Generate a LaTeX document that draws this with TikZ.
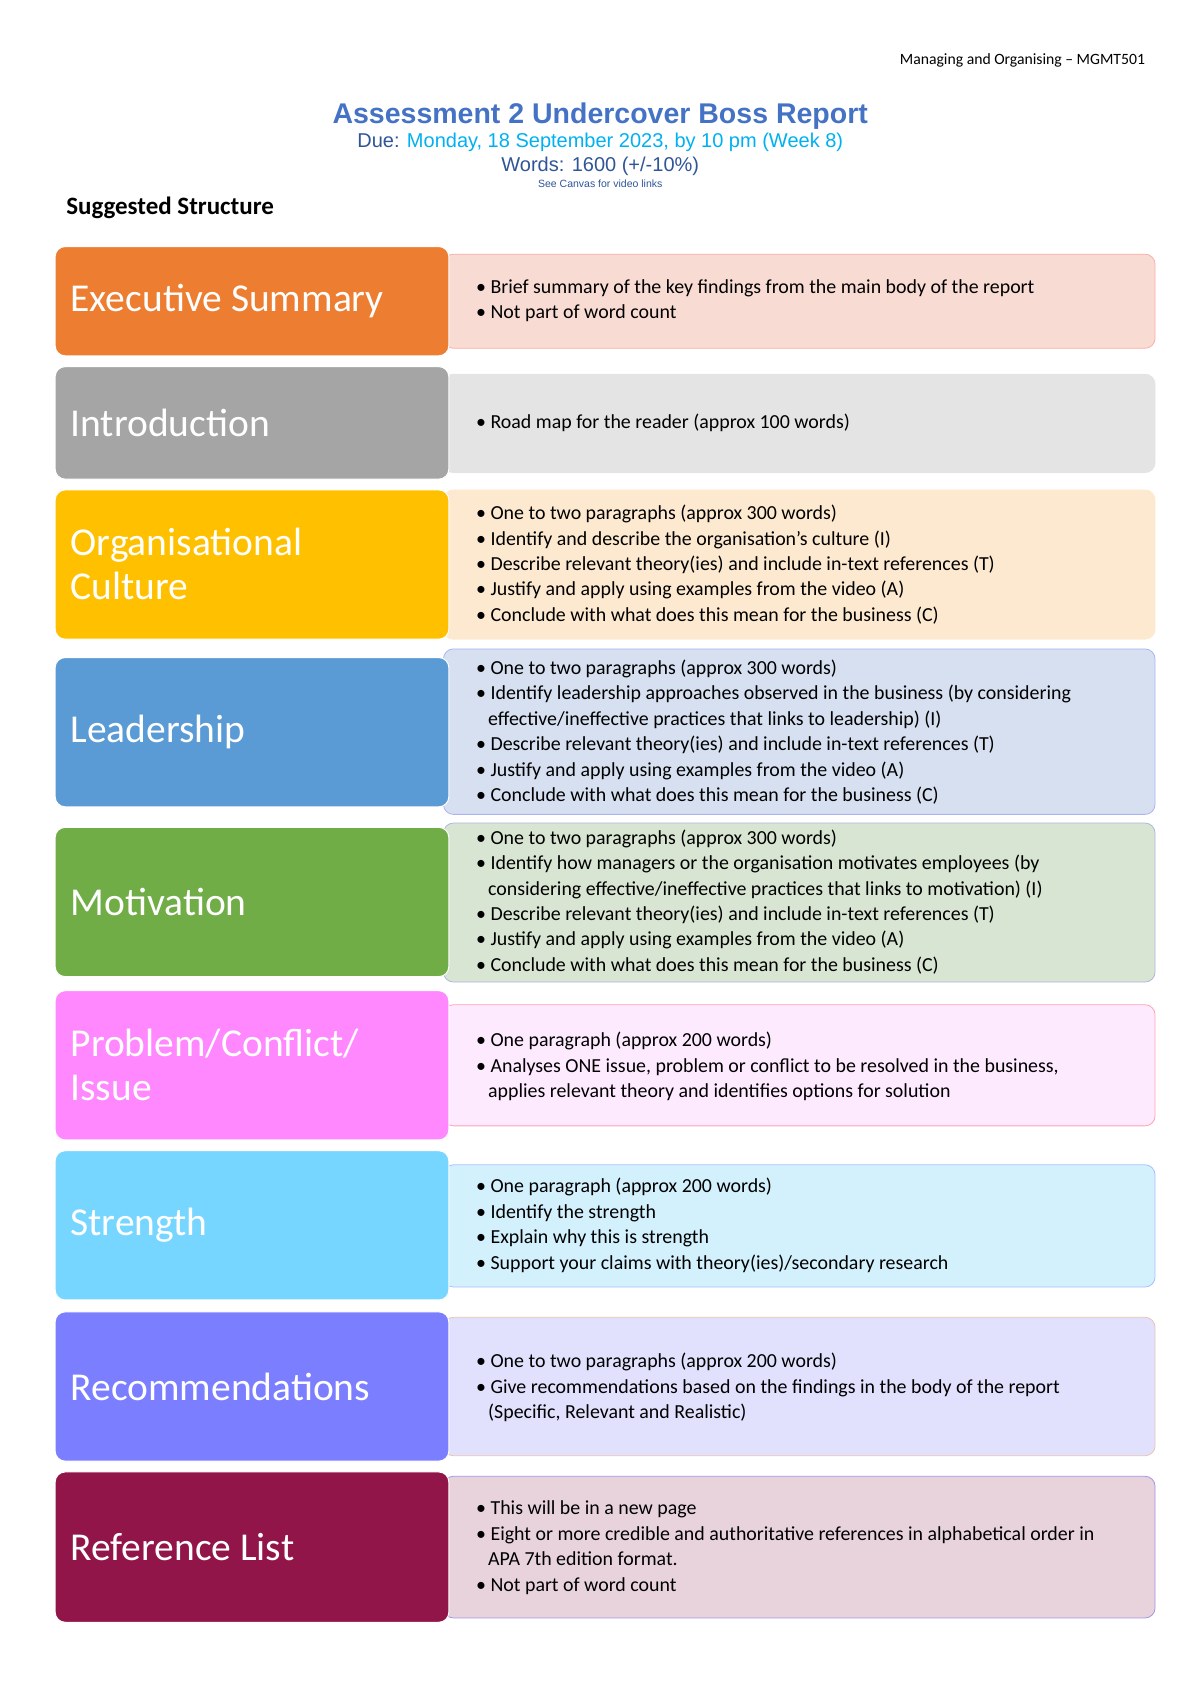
\documentclass[tikz,border=0pt]{standalone}
\usepackage{fontspec}
\setmainfont{Carlito}
\newfontfamily\arialf{Liberation Sans}
\definecolor{c1}{HTML}{ED7D31}\definecolor{d1}{HTML}{F8DBD3}
\definecolor{c2}{HTML}{A5A5A5}\definecolor{d2}{HTML}{E4E4E4}
\definecolor{c3}{HTML}{FFC000}\definecolor{d3}{HTML}{FDE9D0}
\definecolor{c4}{HTML}{5B9BD5}\definecolor{d4}{HTML}{D6E0F0}
\definecolor{c5}{HTML}{70AD47}\definecolor{d5}{HTML}{D9E5D3}
\definecolor{c6}{HTML}{FF88FF}\definecolor{d6}{HTML}{FEEAFE}
\definecolor{c7}{HTML}{77D6FF}\definecolor{d7}{HTML}{D3F0FD}
\definecolor{c8}{HTML}{7B7FFF}\definecolor{d8}{HTML}{E1E1FD}
\definecolor{c9}{HTML}{92154A}\definecolor{d9}{HTML}{E8D3DD}
\definecolor{titleblue}{HTML}{4472C4}
\definecolor{dueblue}{HTML}{00B0F0}
\definecolor{navy}{HTML}{2F5597}
\newcommand{\bl}{\textbullet\ }
\newcommand{\ct}{\hspace*{12pt}}
\tikzset{
 lbox/.style={rounded corners=10pt, draw=white, line width=1pt},
 rbox/.style={rounded corners=10pt, line width=0.8pt},
 ltext/.style={anchor=west, text=white, font=\fontsize{39.5}{44}\selectfont, align=left},
 rtext/.style={anchor=west, align=left, font=\fontsize{19.9}{25.4}\selectfont}
}
\begin{document}
\begin{tikzpicture}[x=1.0815pt,y=-1.0815pt]
\useasboundingbox (0,0) rectangle (1109.6,1569.1);
\node[anchor=east,font=\fontsize{15.7}{18}\selectfont] (hdr) at (1062,56) {Managing and Organising – MGMT501};
\node[font=\arialf\bfseries\fontsize{28.5}{32}\selectfont, text=titleblue] (title) at (555,107) {Assessment 2 Undercover Boss Report};
\node[font=\arialf\fontsize{20}{22}\selectfont] (due) at (555,132) {\textcolor{navy}{Due:} \textcolor{dueblue}{Monday, 18 September 2023, by 10 pm (Week 8)}};
\node[font=\arialf\fontsize{20}{22}\selectfont, text=navy] (words) at (555,154) {Words: 1600 (+/-10\%)};
\node[font=\arialf\fontsize{10.5}{12}\selectfont, text=navy] (see) at (555,170) {See Canvas for video links};
\node[anchor=west,font=\bfseries\fontsize{25}{28}\selectfont] (sug) at (58,192) {Suggested Structure};

% right boxes
\draw[rbox, fill=d1, draw=d1!80!red] (410,235) rectangle (1068,322);
\draw[rbox, fill=d2, draw=d2] (410,346) rectangle (1068,437);
\draw[rbox, fill=d3, draw=d3] (410,453) rectangle (1068,591);
\draw[rbox, fill=d4, draw=d4!80!blue] (410,600) rectangle (1068,753);
\draw[rbox, fill=d5, draw=d5!80!blue] (410,761) rectangle (1068,908);
\draw[rbox, fill=d6, draw=d6!70!red] (410,929) rectangle (1068,1041);
\draw[rbox, fill=d7, draw=d7!80!blue] (410,1077) rectangle (1068,1190);
\draw[rbox, fill=d8, draw=d8!70!orange] (410,1218) rectangle (1068,1346);
\draw[rbox, fill=d9, draw=d9!70!blue] (410,1365) rectangle (1068,1496);

% left boxes
\draw[lbox, fill=c1] (51,228) rectangle (415,329);
\draw[lbox, fill=c2] (51,339) rectangle (415,443);
\draw[lbox, fill=c3] (51,453) rectangle (415,591);
\draw[lbox, fill=c4] (51,608) rectangle (415,746);
\draw[lbox, fill=c5] (51,765) rectangle (415,903);
\draw[lbox, fill=c6] (51,916) rectangle (415,1054);
\draw[lbox, fill=c7] (51,1064) rectangle (415,1202);
\draw[lbox, fill=c8] (51,1213) rectangle (415,1351);
\draw[lbox, fill=c9] (51,1361) rectangle (415,1500);

\node[ltext] (l1) at (62,278) {Executive Summary};
\node[ltext] (l2) at (62,391) {Introduction};
\node[ltext] (l3) at (62,521) {Organisational\\Culture};
\node[ltext] (l4) at (62,677) {Leadership};
\node[ltext] (l5) at (62,834) {Motivation};
\node[ltext] (l6) at (62,985) {Problem/Conflict/\\Issue};
\node[ltext] (l7) at (62,1133) {Strength};
\node[ltext] (l8) at (62,1282) {Recommendations};
\node[ltext] (l9) at (62,1430) {Reference List};

\node[rtext] (r1) at (437,278) {\bl Brief summary of the key findings from the main body of the report\\\bl Not part of word count};
\node[rtext] (r2) at (437,391) {\bl Road map for the reader (approx 100 words)};
\node[rtext] (r3) at (437,522) {\bl One to two paragraphs (approx 300 words)\\\bl Identify and describe the organisation's culture (I)\\\bl Describe relevant theory(ies) and include in-text references (T)\\\bl Justify and apply using examples from the video (A)\\\bl Conclude with what does this mean for the business (C)};
\node[rtext] (r4) at (437,677) {\bl One to two paragraphs (approx 300 words)\\\bl Identify leadership approaches observed in the business (by considering\\\ct effective/ineffective practices that links to leadership) (I)\\\bl Describe relevant theory(ies) and include in-text references (T)\\\bl Justify and apply using examples from the video (A)\\\bl Conclude with what does this mean for the business (C)};
\node[rtext] (r5) at (437,834) {\bl One to two paragraphs (approx 300 words)\\\bl Identify how managers or the organisation motivates employees (by\\\ct considering effective/ineffective practices that links to motivation) (I)\\\bl Describe relevant theory(ies) and include in-text references (T)\\\bl Justify and apply using examples from the video (A)\\\bl Conclude with what does this mean for the business (C)};
\node[rtext] (r6) at (437,986) {\bl One paragraph (approx 200 words)\\\bl Analyses ONE issue, problem or conflict to be resolved in the business,\\\ct applies relevant theory and identifies options for solution};
\node[rtext] (r7) at (437,1133) {\bl One paragraph (approx 200 words)\\\bl Identify the strength\\\bl Explain why this is strength\\\bl Support your claims with theory(ies)/secondary research};
\node[rtext] (r8) at (437,1283) {\bl One to two paragraphs (approx 200 words)\\\bl Give recommendations based on the findings in the body of the report\\\ct (Specific, Relevant and Realistic)};
\node[rtext] (r9) at (437,1431) {\bl This will be in a new page\\\bl Eight or more credible and authoritative references in alphabetical order in\\\ct APA 7th edition format.\\\bl Not part of word count};
\end{tikzpicture}
\end{document}
